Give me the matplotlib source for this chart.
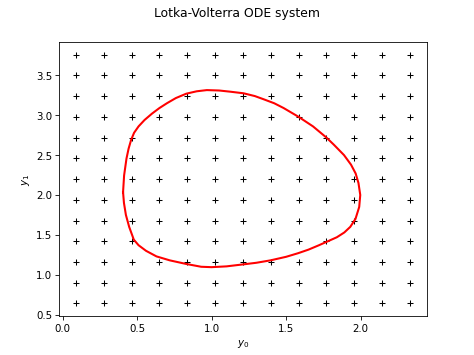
import matplotlib
matplotlib.use("Agg")
import matplotlib.pyplot as plt
import numpy as np

# grid of sample points
grid_y0 = [0.09, 0.277, 0.463, 0.65, 0.837, 1.023, 1.21, 1.397, 1.583, 1.77, 1.957, 2.143, 2.33]
grid_y1 = [0.64, 0.90, 1.16, 1.42, 1.68, 1.94, 2.20, 2.46, 2.72, 2.98, 3.24, 3.50, 3.76]

# orbit (clockwise from the left side)
orbit_y0 = [0.406, 0.413, 0.429, 0.443, 0.46, 0.48, 0.51, 0.55, 0.60, 0.65,
            0.70, 0.76, 0.83, 0.90, 0.968, 1.05, 1.125, 1.214, 1.29, 1.349,
            1.42, 1.483, 1.583, 1.68, 1.77, 1.82, 1.888, 1.935, 1.966, 1.985,
            1.997, 1.99, 1.965, 1.93, 1.89, 1.84, 1.78, 1.72, 1.65, 1.58,
            1.50, 1.394, 1.30, 1.19, 1.10, 1.0, 0.93, 0.83, 0.72, 0.63,
            0.56, 0.51, 0.478, 0.447, 0.425, 0.412, 0.406]
orbit_y1 = [2.035, 2.245, 2.457, 2.58, 2.69, 2.78, 2.86, 2.94, 3.02, 3.09,
            3.15, 3.215, 3.27, 3.30, 3.315, 3.31, 3.295, 3.275, 3.24, 3.20,
            3.15, 3.09, 2.98, 2.86, 2.72, 2.63, 2.50, 2.38, 2.27, 2.15,
            2.00, 1.85, 1.70, 1.60, 1.53, 1.47, 1.42, 1.37, 1.315, 1.27,
            1.225, 1.18, 1.15, 1.125, 1.105, 1.095, 1.10, 1.135, 1.18, 1.23,
            1.30, 1.37, 1.44, 1.60, 1.75, 1.90, 2.035]

fig = plt.figure(figsize=(6.4, 4.8), dpi=474 / 6.4)
ax = fig.add_subplot(111)

gx, gy = np.meshgrid(grid_y0, grid_y1)
ax.plot(gx.ravel(), gy.ravel(), "k+", linestyle="none", markersize=6)
ax.plot(orbit_y0, orbit_y1, color="red", linewidth=2)

ax.set_xlabel("$y_0$")
ax.set_ylabel("$y_1$")
fig.suptitle("Lotka-Volterra ODE system")

fig.savefig("out.png", dpi=474 / 6.4)
